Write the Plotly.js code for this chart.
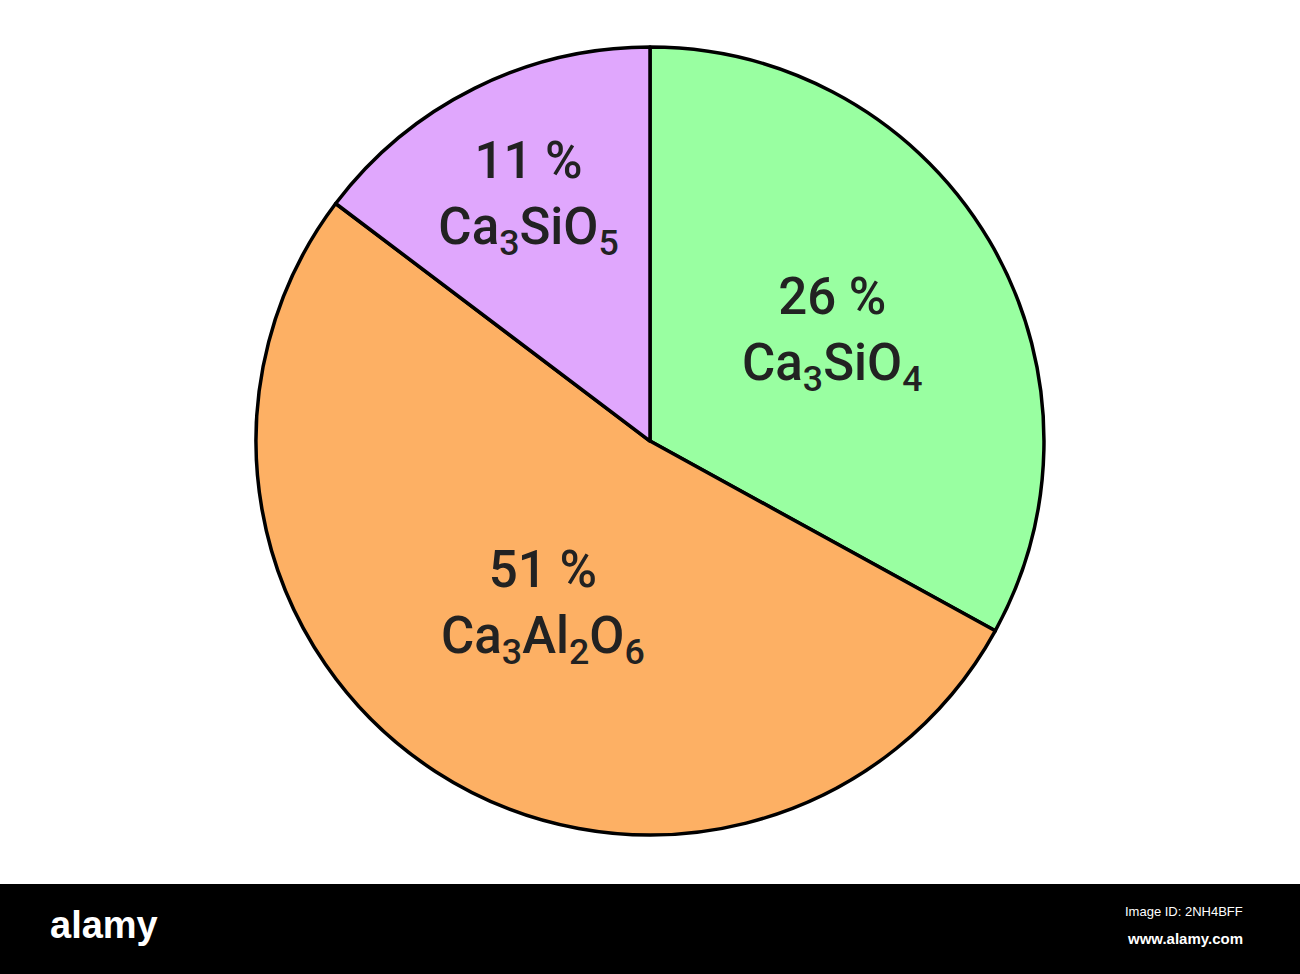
<!DOCTYPE html>
<html>
<head>
<meta charset="utf-8">
<script src="https://cdn.plot.ly/plotly-3.0.1.min.js"></script>
<style>
html, body { margin: 0; padding: 0; background: #fff; }
#cement-chart { width: 1300px; height: 974px; }
</style>
</head>
<body>
<div id="cement-chart"></div>
<script>
// slice shares as drawn (degrees of the circle / 360), labels as printed
const compounds = ["Ca<sub>3</sub>SiO<sub>4</sub>", "Ca<sub>3</sub>Al<sub>2</sub>O<sub>6</sub>", "Ca<sub>3</sub>SiO<sub>5</sub>"];
const shares = [33.0, 52.3, 14.7];
const percentLabels = ["26 %", "51 %", "11 %"];
const sliceColors = ["#99ffa1", "#fdb064", "#e0a7fd"];

const labelText = percentLabels.map((p, i) => p + "<br>" + compounds[i]);

const data = [{
  type: "pie",
  labels: compounds,
  values: shares,
  text: labelText,
  texttemplate: "%{text}",
  textposition: "inside",
  insidetextorientation: "horizontal",
  sort: false,
  direction: "clockwise",
  rotation: 0,
  hoverinfo: "none",
  marker: {
    colors: sliceColors,
    line: {color: "#000", width: 3.5}
  },
  textfont: {family: "Roboto", size: 51, color: "#222", weight: 500},
  domain: {x: [0.1969, 0.8031], y: [0.1427, 0.9517]}
}];

// Define Layout
const layout = {
  width: 1300,
  height: 974,
  showlegend: false,
  margin: {t: 0, l: 0, b: 0, r: 0},
  paper_bgcolor: "#fff",
  shapes: [{
    type: "rect", xref: "paper", yref: "paper",
    x0: 0, x1: 1, y0: 0, y1: 0.0924,
    fillcolor: "#000", line: {width: 0}, layer: "below"
  }],
  annotations: [
    {text: "alamy", xref: "paper", yref: "paper", x: 0.037, y: 0.05, xanchor: "left", yanchor: "middle",
     showarrow: false, font: {family: "Liberation Sans", size: 38, color: "#fff", weight: 700}},
    {text: "Image ID: 2NH4BFF", xref: "paper", yref: "paper", x: 0.958, y: 0.064, xanchor: "right", yanchor: "middle",
     showarrow: false, font: {family: "Liberation Sans", size: 13, color: "#fff"}},
    {text: "www.alamy.com", xref: "paper", yref: "paper", x: 0.958, y: 0.036, xanchor: "right", yanchor: "middle",
     showarrow: false, font: {family: "Liberation Sans", size: 15, color: "#fff", weight: 700}}
  ]
};

var config = {responsive: false, displayModeBar: false, staticPlot: true}

Plotly.newPlot("cement-chart", data, layout, config);
</script>
</body>
</html>
